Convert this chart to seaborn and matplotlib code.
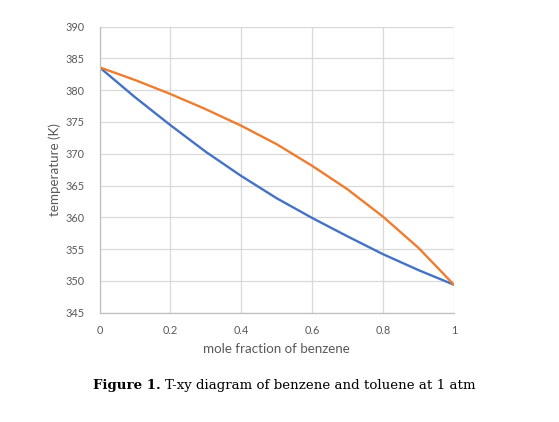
import matplotlib
matplotlib.use("Agg")
import matplotlib.pyplot as plt
import seaborn as sns
import pandas as pd

# mole fraction of benzene
x_benzene = [0.0, 0.1, 0.2, 0.3, 0.4, 0.5, 0.6, 0.7, 0.8, 0.9, 1.0]
# bubble curve (liquid), K
t_liquid = [383.6, 378.9, 374.5, 370.3, 366.5, 363.0, 359.9, 357.0, 354.2, 351.7, 349.4]
# dew curve (vapour), K
t_vapour = [383.6, 381.6, 379.4, 377.0, 374.4, 371.5, 368.1, 364.4, 360.1, 355.2, 349.4]

x_ticks = [0, 0.2, 0.4, 0.6, 0.8, 1]
x_ticklabels = ["0", "0.2", "0.4", "0.6", "0.8", "1"]
y_ticks = [345, 350, 355, 360, 365, 370, 375, 380, 385, 390]

df = pd.DataFrame({"x": x_benzene, "liquid": t_liquid, "vapour": t_vapour})

sns.set_style("whitegrid")
plt.rcParams["font.family"] = ["Lato", "DejaVu Sans"]

fig = plt.figure(figsize=(5.59, 4.22), dpi=100)
ax = fig.add_axes([0.178, 0.259, 0.634, 0.678])

sns.lineplot(data=df, x="x", y="liquid", ax=ax, color="#4472C4", linewidth=1.7)
sns.lineplot(data=df, x="x", y="vapour", ax=ax, color="#ED7D31", linewidth=1.7)

ax.set_xlim(0, 1)
ax.set_ylim(345, 390)
ax.set_xticks(x_ticks)
ax.set_xticklabels(x_ticklabels)
ax.set_yticks(y_ticks)

ax.grid(True, color="#d9d9d9", linewidth=0.9)
for side in ["top", "right"]:
    ax.spines[side].set_visible(False)
for side in ["left", "bottom"]:
    ax.spines[side].set_color("#bfbfbf")
    ax.spines[side].set_linewidth(0.9)

ax.tick_params(axis="both", which="major", length=4, width=0.9, color="#bfbfbf",
               labelsize=7.8, labelcolor="#595959", pad=5)
ax.tick_params(axis="y", pad=7)

ax.set_xlabel("mole fraction of benzene", fontsize=9.6, color="#595959", labelpad=5)
ax.set_ylabel("temperature (K)", fontsize=9.6, color="#595959", labelpad=3)

# caption below the chart
cap_y = 1 - 386 / 422
cap1 = fig.text(93 / 559, cap_y, "Figure 1.", fontsize=9.6, fontweight="bold",
                family="DejaVu Serif", va="center", ha="left", color="black")
fig.canvas.draw()
bb = cap1.get_window_extent(renderer=fig.canvas.get_renderer())
fig.text((bb.x1 + 4) / fig.bbox.width, cap_y,
         "T-xy diagram of benzene and toluene at 1 atm", fontsize=9.6,
         family="DejaVu Serif", va="center", ha="left", color="black")

fig.savefig("out.png", dpi=100)
